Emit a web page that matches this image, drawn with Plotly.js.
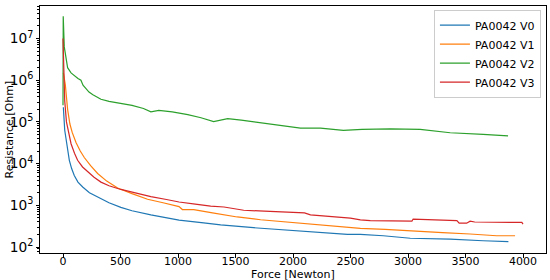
<!DOCTYPE html>
<html>
<head>
<meta charset="utf-8">
<script src="https://cdn.plot.ly/plotly-3.0.1.min.js"></script>
<style>html,body{margin:0;padding:0;background:#fff;}#chart{width:550px;height:280px;}</style>
</head>
<body>
<div id="chart"></div>
<script>
const seriesNames = ["PA0042 V0", "PA0042 V1", "PA0042 V2", "PA0042 V3"];
const xTitle = "Force [Newton]";
const yTitle = "Resistance [Ohm]";
const xTicks = [0, 500, 1000, 1500, 2000, 2500, 3000, 3500, 4000];

const forceV0 = [3, 8, 15, 26, 40, 55, 75, 98, 130, 171, 230, 330, 400, 503, 600, 764, 900, 1009, 1223, 1371, 1657, 2091, 2473, 2586, 2785, 3020, 3367, 3653, 3873];
const resV0 = [224000, 100000, 63000, 40000, 20000, 12000, 7600, 5200, 3600, 2750, 2000, 1450, 1150, 890, 740, 590, 500, 440, 380, 340, 290, 240, 200, 200, 186, 162, 155, 141, 135];

const forceV1 = [3, 20, 40, 60, 80, 113, 150, 185, 240, 301, 380, 475, 600, 735, 870, 1009, 1038, 1137, 1300, 1515, 1718, 2091, 2438, 2586, 2800, 3077, 3300, 3540, 3771, 3931];
const resV1 = [1500000, 790000, 200000, 89000, 56000, 32000, 20000, 14000, 8900, 5800, 3800, 2600, 1900, 1400, 1150, 930, 790, 790, 660, 525, 450, 370, 315, 280, 265, 235, 220, 205, 186, 186];

const forceV2 = [0, 2, 11, 25, 40, 70, 95, 130, 156, 174, 200, 226, 260, 304, 330, 400, 503, 600, 700, 764, 833, 950, 1085, 1200, 1310, 1432, 1550, 1779, 2065, 2239, 2438, 2600, 2846, 3106, 3250, 3367, 3653, 3870];
const resV2 = [250000, 34000000, 6300000, 3200000, 2000000, 1500000, 1300000, 1100000, 1000000, 760000, 630000, 520000, 450000, 390000, 350000, 310000, 275000, 250000, 210000, 174000, 190000, 174000, 150000, 126000, 102000, 120000, 110000, 91000, 71000, 71000, 63000, 66000, 68000, 66000, 59000, 55000, 50000, 46000];

const forceV3 = [0, 5, 15, 30, 50, 70, 100, 127, 170, 214, 270, 330, 400, 503, 600, 700, 764, 900, 1009, 1150, 1284, 1400, 1571, 1750, 1952, 2100, 2152, 2386, 2499, 2586, 2672, 3034, 3045, 3425, 3445, 3510, 3540, 3580, 3700, 3990, 4000];
const resV3 = [10000000, 2000000, 320000, 100000, 50000, 30000, 17800, 12000, 8300, 6300, 4700, 3600, 2950, 2400, 2050, 1800, 1620, 1380, 1200, 1070, 955, 910, 760, 725, 690, 660, 590, 525, 490, 447, 427, 417, 468, 427, 372, 372, 417, 398, 398, 389, 355];

const colors = ["#1f77b4", "#ff7f0e", "#2ca02c", "#d62728"];
const xs = [forceV0, forceV1, forceV2, forceV3];
const ys = [resV0, resV1, resV2, resV3];

const traces = seriesNames.map((n, i) => ({
  x: xs[i], y: ys[i], name: n, type: "scatter", mode: "lines",
  line: {color: colors[i], width: 1.2}
}));

const FAM = "DejaVu Sans";
const f = (s) => ({family: FAM, size: s, color: "#000"});
const layout = {
  width: 550, height: 280,
  margin: {l: 40, r: 4, t: 6, b: 27, pad: 0},
  paper_bgcolor: "#fff", plot_bgcolor: "#fff",
  font: f(11),
  showlegend: true,
  legend: {
    x: 0.99, y: 0.985, xanchor: "right", yanchor: "top",
    bordercolor: "#cccccc", borderwidth: 1, bgcolor: "rgba(255,255,255,0.9)",
    font: f(11), tracegroupgap: 0, itemwidth: 30
  },
  xaxis: {
    range: [-200, 4200], tickvals: xTicks,
    showgrid: false, zeroline: false, showline: true, mirror: true,
    linecolor: "#000", linewidth: 1, ticks: "outside", ticklen: 3.5, tickcolor: "#000",
    tickfont: f(11), ticklabelstandoff: -6
  },
  yaxis: {
    type: "log", range: [1.856, 7.78], dtick: 1, exponentformat: "power",
    showgrid: false, zeroline: false, showline: true, mirror: true,
    linecolor: "#000", linewidth: 1, ticks: "outside", ticklen: 3.5, tickcolor: "#000",
    tickfont: f(11),
    minor: {ticks: "outside", ticklen: 2, tickcolor: "#000", showgrid: false}
  },
  annotations: [
    {text: xTitle, xref: "paper", yref: "paper", x: 0.5, y: 0, xanchor: "center", yanchor: "middle",
     yshift: -21, showarrow: false, font: f(11)},
    {text: yTitle, xref: "paper", yref: "paper", x: 0, y: 0.5, xanchor: "center", yanchor: "middle",
     xshift: -31, textangle: -90, showarrow: false, font: f(11)}
  ]
};

Plotly.newPlot("chart", traces, layout, {displayModeBar: false, staticPlot: true});
</script>
</body>
</html>
